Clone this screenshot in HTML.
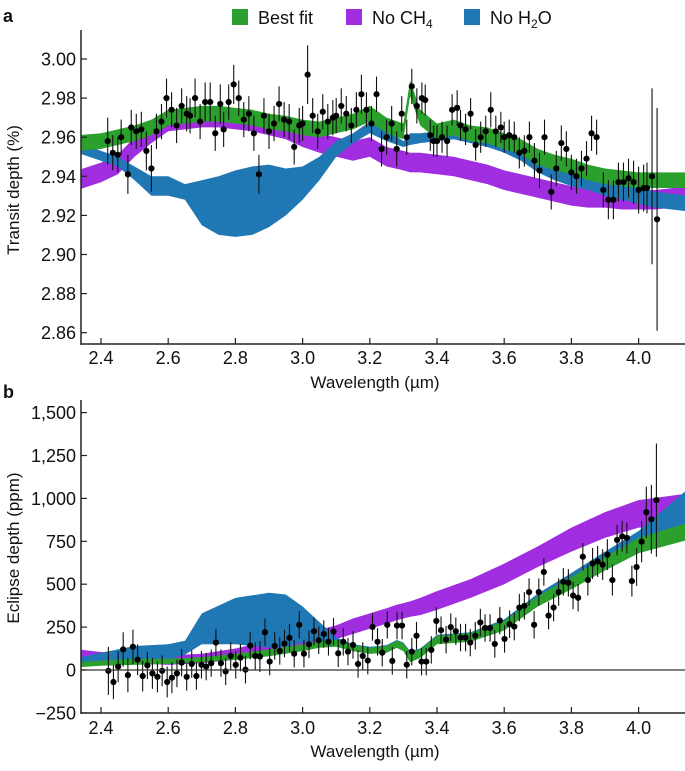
<!DOCTYPE html>
<html><head><meta charset="utf-8"><style>
body{margin:0;background:#fff;}
svg text{font-family:"Liberation Sans",sans-serif;fill:#111;}
</style></head><body>
<svg id="c" width="685" height="766" xmlns="http://www.w3.org/2000/svg"></svg>
<script>
// ---------- Panel a data ----------
const gridA=[2.33,2.4,2.45,2.5,2.55,2.6,2.65,2.7,2.75,2.8,2.85,2.9,2.95,3.0,3.05,3.1,3.15,3.2,3.25,3.3,3.32,3.35,3.4,3.45,3.5,3.55,3.6,3.65,3.7,3.75,3.8,3.85,3.9,3.95,4.0,4.05,4.15];
const greenA=[2.957,2.958,2.960,2.962,2.965,2.970,2.971,2.972,2.972,2.971,2.970,2.968,2.967,2.965,2.964,2.966,2.968,2.972,2.966,2.963,2.985,2.970,2.963,2.965,2.962,2.961,2.958,2.955,2.950,2.947,2.945,2.942,2.940,2.939,2.938,2.938,2.938];
const purpleA=[2.938,2.942,2.946,2.955,2.962,2.968,2.969,2.970,2.970,2.969,2.968,2.966,2.964,2.960,2.957,2.955,2.953,2.955,2.950,2.948,2.947,2.947,2.946,2.945,2.943,2.941,2.938,2.936,2.934,2.932,2.930,2.929,2.929,2.928,2.928,2.928,2.930];
const blueAhi=[2.958,2.953,2.950,2.945,2.940,2.940,2.936,2.938,2.940,2.943,2.945,2.946,2.944,2.945,2.950,2.958,2.962,2.968,2.964,2.958,2.962,2.962,2.963,2.964,2.962,2.960,2.958,2.955,2.948,2.944,2.941,2.940,2.938,2.936,2.934,2.932,2.930];
const blueAlo=[2.952,2.948,2.945,2.938,2.930,2.930,2.928,2.915,2.910,2.909,2.910,2.914,2.920,2.928,2.938,2.950,2.957,2.962,2.958,2.955,2.956,2.957,2.958,2.959,2.957,2.955,2.952,2.948,2.942,2.938,2.935,2.933,2.930,2.928,2.926,2.924,2.922];
const wlA=[2.42,2.435,2.45,2.46,2.48,2.49,2.505,2.52,2.535,2.55,2.565,2.58,2.595,2.61,2.625,2.64,2.655,2.665,2.68,2.695,2.71,2.725,2.74,2.755,2.765,2.78,2.795,2.81,2.825,2.84,2.855,2.87,2.885,2.9,2.915,2.93,2.945,2.96,2.975,2.99,3.0,3.015,3.03,3.045,3.06,3.075,3.09,3.1,3.115,3.13,3.145,3.16,3.175,3.19,3.205,3.22,3.235,3.25,3.265,3.28,3.295,3.31,3.325,3.34,3.355,3.365,3.38,3.39,3.4,3.415,3.43,3.445,3.46,3.47,3.485,3.5,3.515,3.53,3.545,3.56,3.575,3.59,3.6,3.615,3.63,3.645,3.66,3.675,3.69,3.705,3.72,3.74,3.755,3.77,3.785,3.8,3.815,3.83,3.845,3.86,3.875,3.895,3.91,3.925,3.94,3.955,3.97,3.985,4.0,4.015,4.025,4.04,4.055];
const valA=[2.958,2.952,2.951,2.960,2.941,2.965,2.963,2.964,2.953,2.944,2.963,2.968,2.980,2.974,2.966,2.976,2.972,2.971,2.980,2.968,2.978,2.978,2.962,2.977,2.964,2.978,2.987,2.980,2.969,2.972,2.962,2.941,2.971,2.963,2.967,2.977,2.969,2.968,2.955,2.966,2.967,2.992,2.971,2.963,2.973,2.968,2.970,2.971,2.976,2.972,2.966,2.974,2.982,2.974,2.967,2.982,2.954,2.960,2.967,2.954,2.972,2.960,2.986,2.976,2.980,2.979,2.961,2.958,2.958,2.960,2.958,2.974,2.975,2.966,2.964,2.972,2.956,2.960,2.963,2.974,2.963,2.965,2.960,2.961,2.960,2.952,2.953,2.960,2.948,2.943,2.960,2.932,2.944,2.957,2.954,2.942,2.940,2.944,2.949,2.962,2.960,2.933,2.928,2.928,2.937,2.937,2.939,2.937,2.933,2.934,2.934,2.940,2.918];
const errA=[0.012,0.009,0.009,0.009,0.010,0.009,0.009,0.009,0.010,0.012,0.009,0.009,0.010,0.009,0.009,0.009,0.009,0.009,0.010,0.009,0.010,0.010,0.009,0.010,0.009,0.009,0.010,0.009,0.009,0.009,0.009,0.010,0.009,0.009,0.009,0.009,0.009,0.009,0.009,0.009,0.009,0.015,0.009,0.009,0.009,0.009,0.009,0.009,0.009,0.009,0.009,0.009,0.010,0.009,0.009,0.009,0.009,0.009,0.009,0.009,0.009,0.009,0.009,0.009,0.008,0.008,0.008,0.008,0.008,0.008,0.008,0.008,0.009,0.008,0.008,0.008,0.008,0.008,0.008,0.009,0.008,0.008,0.008,0.008,0.008,0.008,0.008,0.008,0.009,0.009,0.009,0.009,0.009,0.009,0.009,0.009,0.009,0.009,0.009,0.009,0.009,0.009,0.010,0.010,0.010,0.010,0.010,0.011,0.012,0.012,0.013,0.045,0.057];
const ticksXA=[2.4,2.6,2.8,3.0,3.2,3.4,3.6,3.8,4.0];
const tickLabelsXA=["2.4","2.6","2.8","3.0","3.2","3.4","3.6","3.8","4.0"];
const ticksYA=[2.86,2.88,2.90,2.92,2.94,2.96,2.98,3.00];
const tickLabelsYA=["2.86","2.88","2.90","2.92","2.94","2.96","2.98","3.00"];
// ---------- Panel b data ----------
const gridB=[2.33,2.4,2.5,2.6,2.65,2.7,2.8,2.9,2.95,3.0,3.05,3.1,3.15,3.2,3.25,3.28,3.3,3.32,3.35,3.4,3.5,3.6,3.7,3.8,3.9,4.0,4.15];
const greenBlo=[15,25,30,35,40,45,60,80,95,110,130,135,110,95,100,130,110,45,70,150,165,230,370,470,580,680,760];
const greenBhi=[45,55,65,65,70,75,95,120,135,150,170,175,145,130,140,170,155,100,120,200,215,285,430,540,660,770,860];
const purpleBlo=[60,50,40,30,35,40,60,100,115,140,155,180,210,240,270,290,300,310,320,350,420,500,600,690,770,830,850];
const purpleBhi=[120,105,90,85,90,95,125,170,190,215,235,260,300,330,360,380,390,400,420,460,530,620,720,830,920,990,1030];
const blueBlo=[40,50,60,60,90,150,150,130,135,160,175,155,110,95,100,130,110,45,75,155,170,240,385,490,600,700,780];
const blueBhi=[70,100,140,150,170,330,420,450,440,370,280,190,150,135,145,175,160,110,125,205,220,295,445,565,690,810,1060];
const wlB=[2.422,2.437,2.451,2.466,2.480,2.495,2.509,2.524,2.538,2.553,2.568,2.582,2.597,2.611,2.626,2.640,2.655,2.670,2.684,2.699,2.713,2.728,2.742,2.757,2.771,2.786,2.801,2.815,2.830,2.844,2.859,2.873,2.888,2.902,2.917,2.932,2.946,2.961,2.975,2.990,3.004,3.019,3.034,3.048,3.063,3.077,3.092,3.106,3.121,3.135,3.150,3.165,3.179,3.194,3.208,3.223,3.237,3.252,3.267,3.281,3.296,3.310,3.325,3.339,3.354,3.368,3.383,3.398,3.412,3.427,3.441,3.456,3.470,3.485,3.499,3.514,3.529,3.543,3.558,3.572,3.587,3.601,3.616,3.630,3.645,3.660,3.674,3.689,3.703,3.718,3.732,3.747,3.762,3.776,3.791,3.805,3.820,3.834,3.849,3.863,3.878,3.893,3.907,3.922,3.936,3.951,3.965,3.980,3.994,4.009,4.023,4.038,4.053];
const valB=[-5,-70,20,120,-30,135,60,-35,27,-20,-40,-5,-70,-45,-20,43,-40,35,-35,30,20,40,160,40,-8,82,30,72,2,142,82,78,220,49,140,111,154,187,95,263,95,150,226,173,210,164,224,97,164,107,146,35,82,55,251,164,101,263,53,259,259,31,107,200,49,49,117,286,232,177,250,226,189,189,160,200,277,245,245,152,288,181,267,253,364,374,454,263,454,571,317,364,454,514,508,434,421,660,524,621,633,614,672,524,758,779,770,518,600,748,919,879,990];
const errB=[140,100,90,100,100,100,90,90,80,90,90,90,90,90,80,80,80,80,80,80,80,80,80,80,80,80,80,80,80,80,80,90,80,80,80,80,80,80,80,80,80,80,80,80,80,80,80,80,80,80,80,80,80,80,80,80,80,80,80,80,80,80,80,80,80,80,80,80,80,80,80,80,80,80,80,80,80,80,80,80,80,80,80,80,80,80,80,80,80,80,80,80,80,80,80,80,80,80,90,90,90,90,90,90,90,90,90,90,110,120,150,200,330,510];
const ticksYB=[-250,0,250,500,750,1000,1250,1500];
const tickLabelsYB=["\u2212250","0","250","500","750","1,000","1,250","1,500"];

const NS="http://www.w3.org/2000/svg";
const svg=document.getElementById('c');
function mk(tag,attrs,parent){const e=document.createElementNS(NS,tag);for(const k in attrs)e.setAttribute(k,attrs[k]);(parent||svg).appendChild(e);return e;}
const X0=81,X1=685;
function xs(w){return 101+(w-2.4)*336;}
function ysA(v){return 59+(3.00-v)/0.02*39.1;}
function ysB(v){return 670-v/250*42.9;}

function clip(id,y0,y1){const d=mk('defs',{});const cp=mk('clipPath',{id:id},d);mk('rect',{x:X0,y:y0,width:X1-X0,height:y1-y0},cp);}
clip('ca',28,344);clip('cb',398,712);

function band(g,grid,lo,hi,ys,color,name){
  let d='';
  for(let i=0;i<grid.length;i++)d+=(i?'L':'M')+xs(grid[i]).toFixed(1)+','+ys(hi[i]).toFixed(1);
  for(let i=grid.length-1;i>=0;i--)d+='L'+xs(grid[i]).toFixed(1)+','+ys(lo[i]).toFixed(1);
  const p=mk('path',{d:d+'Z',fill:color},g);
  
  
}
function points(g,wl,val,err,ys,name){
  for(let i=0;i<wl.length;i++){
    const x=xs(wl[i]);
    const l=mk('line',{x1:x,x2:x,y1:ys(val[i]-err[i]),y2:ys(val[i]+err[i]),stroke:'#111','stroke-width':1.1},g);
    
    
    const c=mk('circle',{cx:x,cy:ys(val[i]),r:3.1,fill:'#000'},g);
    
    
  }
}
function text(x,y,s,attrs,name){const t=mk('text',Object.assign({x:x,y:y},attrs||{}));t.textContent=s;return t;}

// ---- Panel a ----
const ga=mk('g',{'clip-path':'url(#ca)'});


band(ga,gridA,purpleA.map(v=>v-0.005),purpleA.map(v=>v+0.005),ysA,'#a02ee0','no-ch4-band-a');
band(ga,gridA,blueAlo,blueAhi,ysA,'#1f77b4','no-h2o-band-a');
band(ga,gridA,greenA.map(v=>v-0.004),greenA.map(v=>v+0.004),ysA,'#2ca02c','best-fit-band-a');
points(ga,wlA,valA,errA,ysA,'transit-data');
mk('line',{x1:X0,x2:X0,y1:30,y2:345,stroke:'#222','stroke-width':1.5});
mk('line',{x1:X0,x2:X1,y1:344,y2:344,stroke:'#222','stroke-width':1.5});
ticksXA.forEach((t,i)=>{mk('line',{x1:xs(t),x2:xs(t),y1:344,y2:338,stroke:'#222','stroke-width':1.2});text(xs(t),364,tickLabelsXA[i],{'text-anchor':'middle','font-size':18},'x-tick-label-a');});
ticksYA.forEach((t,i)=>{mk('line',{x1:X0,x2:X0+6,y1:ysA(t),y2:ysA(t),stroke:'#222','stroke-width':1.2});text(X0-5,ysA(t)+6.5,tickLabelsYA[i],{'text-anchor':'end','font-size':18},'y-tick-label-a');});
text(375,388,'Wavelength (\u00b5m)',{'text-anchor':'middle','font-size':17},'x-axis-title-a');
text(19,190,'Transit depth (%)',{'text-anchor':'middle','font-size':17,transform:'rotate(-90 19 190)'},'y-axis-title-a');
text(3,22,'a',{'font-size':18,'font-weight':'bold'},'panel-label-a');

// ---- Legend ----
const lg=mk('g',{});


[[232,'#2ca02c','Best fit',null,'legend-best-fit'],[346,'#a02ee0','No CH','4','legend-no-ch4'],[464,'#1f77b4','No H','2','legend-no-h2o']].forEach(e=>{
  mk('rect',{x:e[0],y:9,width:16,height:16,fill:e[1]},lg);
  const t=mk('text',{x:e[0]+26,y:24,'font-size':18},lg);
  
  
  t.appendChild(document.createTextNode(e[2]));
  if(e[3]){const s=mk('tspan',{'font-size':12,dy:4},t);s.textContent=e[3];if(e[3]==='2'){const o=mk('tspan',{'font-size':18,dy:-4},t);o.textContent='O';}}
});

// ---- Panel b ----
const gb=mk('g',{'clip-path':'url(#cb)'});


band(gb,gridB,purpleBlo,purpleBhi,ysB,'#a02ee0','no-ch4-band-b');
band(gb,gridB,blueBlo,blueBhi,ysB,'#1f77b4','no-h2o-band-b');
band(gb,gridB,greenBlo,greenBhi,ysB,'#2ca02c','best-fit-band-b');
mk('line',{x1:X0,x2:X1,y1:ysB(0),y2:ysB(0),stroke:'#333','stroke-width':1.3});
points(gb,wlB,valB,errB,ysB,'eclipse-data');
mk('line',{x1:X0,x2:X0,y1:400,y2:714,stroke:'#222','stroke-width':1.5});
mk('line',{x1:X0,x2:X1,y1:713,y2:713,stroke:'#222','stroke-width':1.5});
ticksXA.forEach((t,i)=>{mk('line',{x1:xs(t),x2:xs(t),y1:713,y2:707,stroke:'#222','stroke-width':1.2});text(xs(t),734,tickLabelsXA[i],{'text-anchor':'middle','font-size':18},'x-tick-label-b');});
ticksYB.forEach((t,i)=>{mk('line',{x1:X0,x2:X0+6,y1:ysB(t),y2:ysB(t),stroke:'#222','stroke-width':1.2});text(X0-5,ysB(t)+6.5,tickLabelsYB[i],{'text-anchor':'end','font-size':18},'y-tick-label-b');});
text(375,757,'Wavelength (\u00b5m)',{'text-anchor':'middle','font-size':17},'x-axis-title-b');
text(19,548,'Eclipse depth (ppm)',{'text-anchor':'middle','font-size':17,transform:'rotate(-90 19 548)'},'y-axis-title-b');
text(3,398,'b',{'font-size':18,'font-weight':'bold'},'panel-label-b');
</script>
</body></html>
